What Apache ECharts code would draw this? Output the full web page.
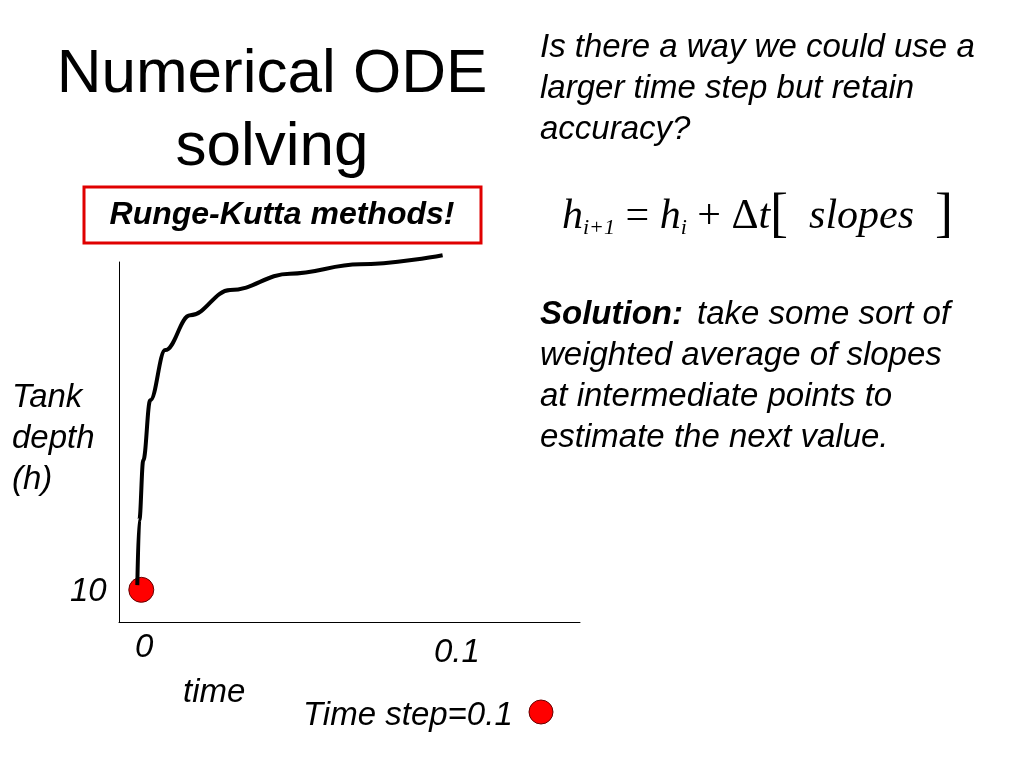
<!DOCTYPE html>
<html>
<head>
<meta charset="utf-8">
<script src="https://cdn.jsdelivr.net/npm/echarts@6/dist/echarts.min.js"></script>
<style>html,body{margin:0;background:#fff}#main{width:1024px;height:768px}</style>
</head>
<body>
<div id="main"></div>
<script>
// curve: time vs tank depth
const times = [0, 0.00065, 0.00196, 0.00425, 0.00915, 0.0173, 0.0304, 0.05, 0.0729, 0.1];
const depths = [10.06, 12.28, 14.33, 16.38, 18.09, 19.28, 20.14, 20.7, 21.02, 21.33];
const startPoint = [0.0013, 9.9];
const questionLines = ['Is there a way we could use a', 'larger time step but retain', 'accuracy?'];
const solutionLines = ['weighted average of slopes', 'at intermediate points to', 'estimate the next value.'];

let myChart = echarts.init(document.getElementById('main'));
const fam = '"Liberation Sans", Arial, sans-serif';
const it = 'italic 33px ' + fam;
let g = [
  {type: 'text', x: 272, y: 75, style: {text: 'Numerical ODE', font: '62px ' + fam, fill: '#000', align: 'center', verticalAlign: 'middle'}},
  {type: 'text', x: 272, y: 148, style: {text: 'solving', font: '62px ' + fam, fill: '#000', align: 'center', verticalAlign: 'middle'}},
  {type: 'rect', shape: {x: 84, y: 187, width: 397, height: 56}, style: {fill: 'none', stroke: '#e00000', lineWidth: 3}},
  {type: 'text', x: 282, y: 215, style: {text: 'Runge-Kutta methods!', font: 'italic bold 32px ' + fam, fill: '#000', align: 'center', verticalAlign: 'middle'}},
  {type: 'text', x: 540, y: 315, style: {text: 'Solution:', font: 'italic bold 33px ' + fam, fill: '#000', verticalAlign: 'middle'}},
  {type: 'text', x: 697, y: 315, style: {text: 'take some sort of', font: it, fill: '#000', verticalAlign: 'middle'}},
  {type: 'text', x: 562, y: 217, style: {
    rich: {
      h: {font: 'italic 42px "Liberation Serif", "DejaVu Serif", serif'},
      s: {font: 'italic 22px "Liberation Serif", serif', padding: [22, 0, 0, 0]},
      n: {font: '42px "Liberation Serif", serif'},
      b: {font: '54px "Liberation Serif", serif'}
    },
    text: '{h|h}{s|i+1}{n| = }{h|h}{s|i}{n| + Δ}{h|t}{b|[}{h|  slopes  }{b|]}',
    verticalAlign: 'middle', fill: '#000'}},
  {type: 'text', x: 70, y: 592, style: {text: '10', font: it, fill: '#000', verticalAlign: 'middle'}},
  {type: 'text', x: 135, y: 648, style: {text: '0', font: it, fill: '#000', verticalAlign: 'middle'}},
  {type: 'text', x: 434, y: 653, style: {text: '0.1', font: it, fill: '#000', verticalAlign: 'middle'}},
  {type: 'text', x: 183, y: 693, style: {text: 'time', font: it, fill: '#000', verticalAlign: 'middle'}},
  {type: 'text', x: 303, y: 716, style: {text: 'Time step=0.1', font: it, fill: '#000', verticalAlign: 'middle'}},
  {type: 'circle', shape: {cx: 541, cy: 712, r: 12}, style: {fill: '#ff0000', stroke: '#600', lineWidth: 1}}
];
questionLines.forEach((t, i) => g.push({type: 'text', x: 540, y: 48 + i * 41, style: {text: t, font: it, fill: '#000', verticalAlign: 'middle'}}));
solutionLines.forEach((t, i) => g.push({type: 'text', x: 540, y: 356 + i * 41, style: {text: t, font: it, fill: '#000', verticalAlign: 'middle'}}));
['Tank', 'depth', '(h)'].forEach((t, i) => g.push({type: 'text', x: 12, y: 398 + i * 41, style: {text: t, font: it, fill: '#000', verticalAlign: 'middle'}}));

myChart.setOption({
  animation: false,
  grid: {left: 119, right: 444, top: 262, bottom: 146},
  xAxis: {type: 'value', min: -0.006, max: 0.145, axisLine: {lineStyle: {color: '#000'}}, axisTick: {show: false}, axisLabel: {show: false}, splitLine: {show: false}},
  yAxis: {type: 'value', min: 8.8, max: 21.1, axisLine: {show: true, onZero: false, lineStyle: {color: '#000'}}, axisTick: {show: false}, axisLabel: {show: false}, splitLine: {show: false}},
  graphic: g,
  series: [
    {type: 'line', data: times.map((t, i) => [t, depths[i]]), smooth: 0.4, smoothMonotone: 'x', showSymbol: false, clip: false, lineStyle: {color: '#000', width: 4}},
    {type: 'scatter', data: [startPoint], symbolSize: 25, itemStyle: {color: '#ff0000', borderColor: '#600', borderWidth: 1, opacity: 1}}
  ]
});
</script>
</body>
</html>
